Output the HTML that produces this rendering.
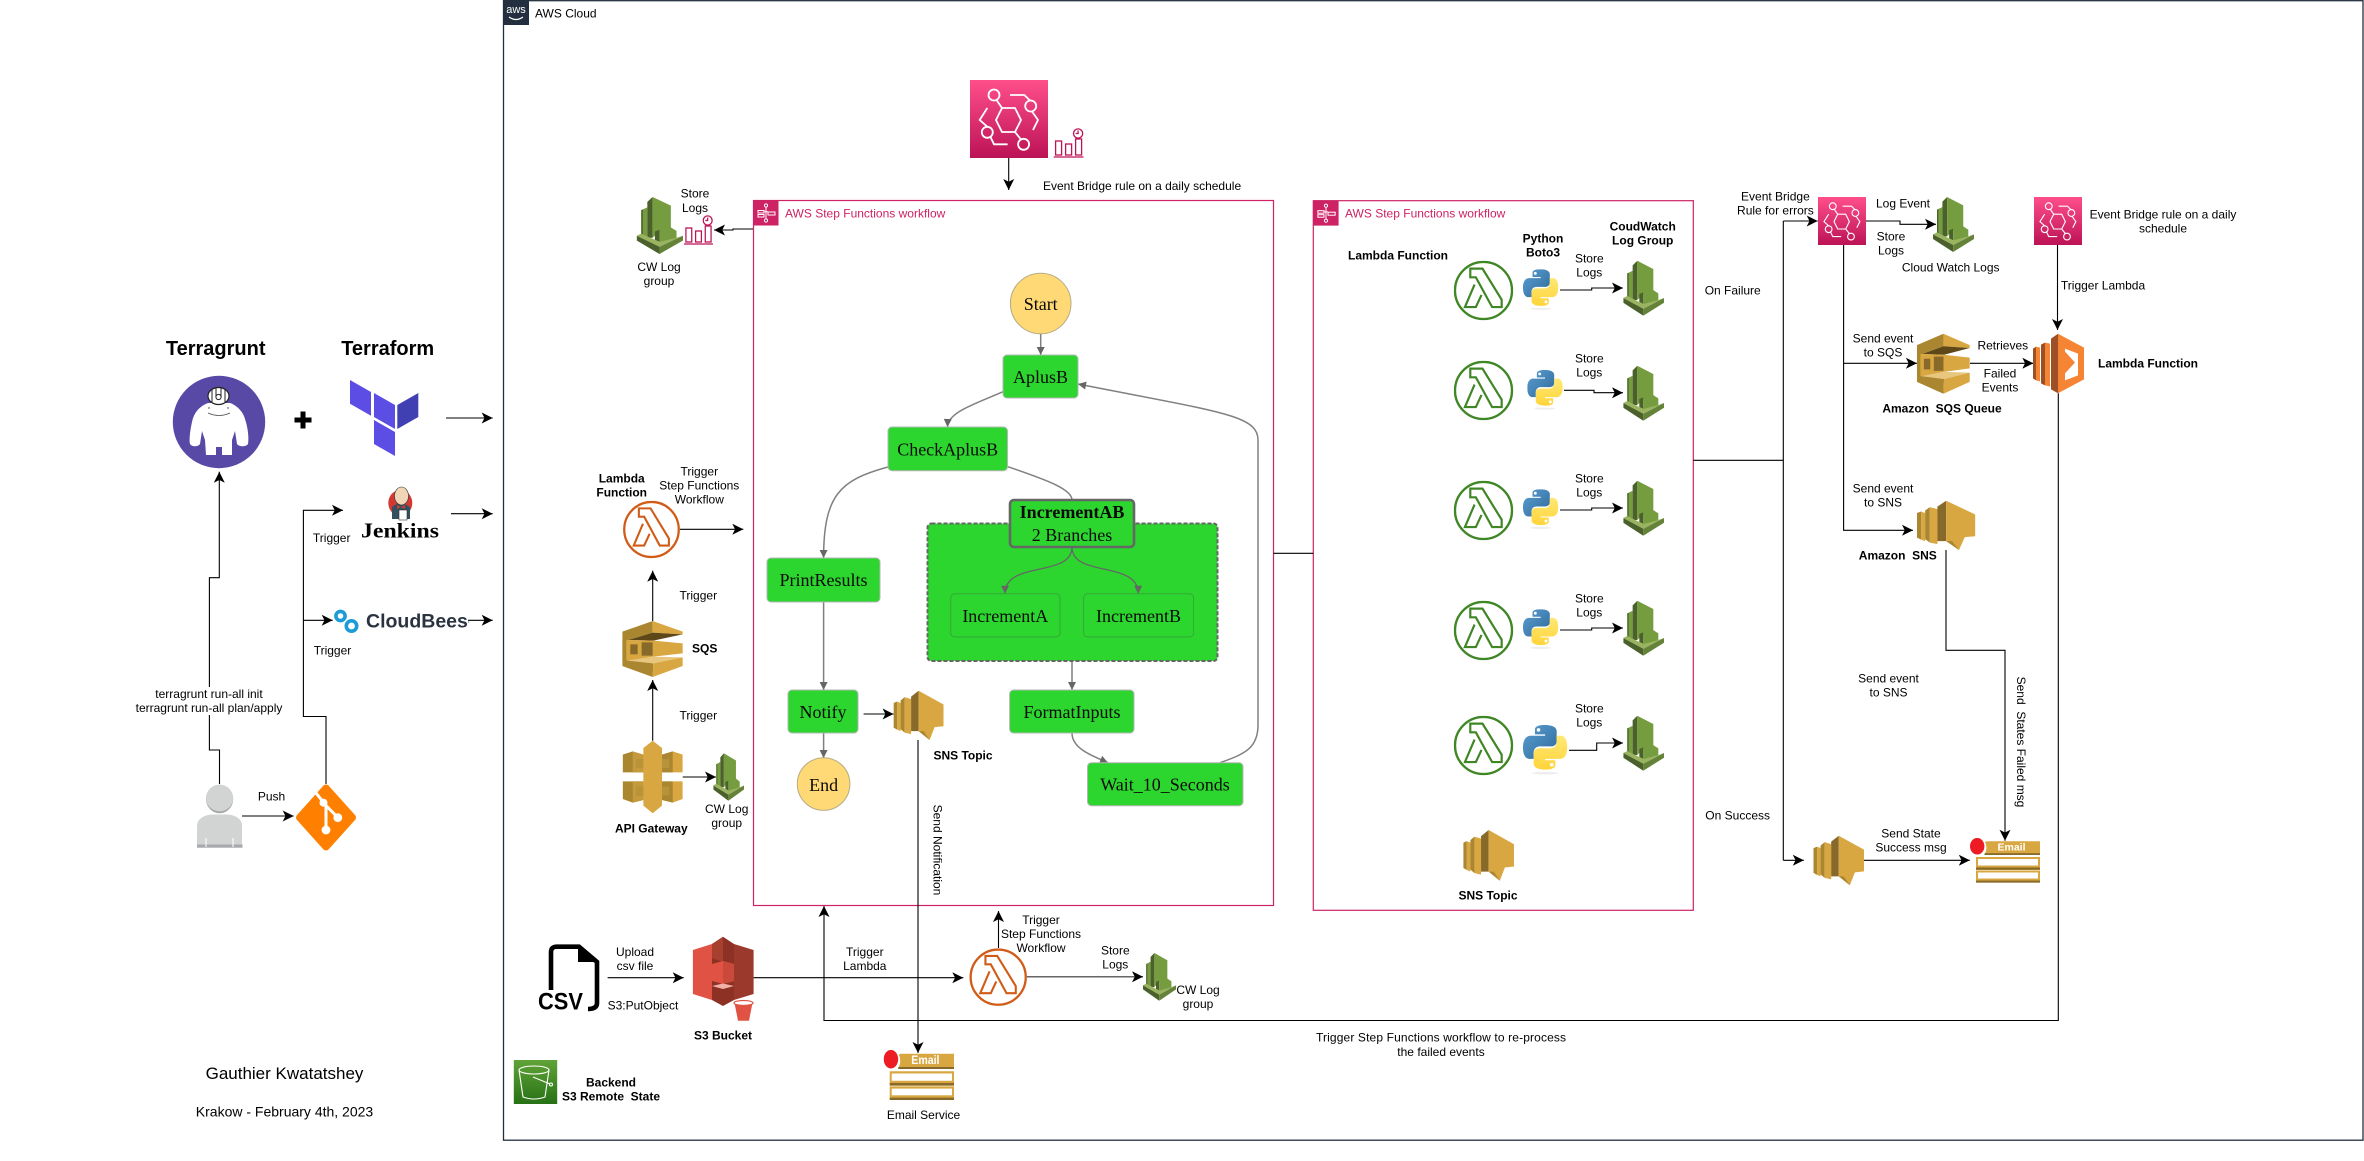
<!DOCTYPE html>
<html lang="en">
<head>
<meta charset="utf-8">
<title>AWS Step Functions architecture</title>
<style>
html,body{margin:0;padding:0;background:#fff;width:2364px;height:1161px;overflow:hidden}
svg{display:block}
text{font-family:"Liberation Sans",Arial,sans-serif;font-size:12px;fill:#000;dominant-baseline:central}
.t{text-anchor:middle}
.l{text-anchor:start}
.b{text-anchor:middle;font-weight:bold}
.s{text-anchor:middle;font-family:"Liberation Serif","Times New Roman",serif;font-size:18px;fill:#0a0a0a}
.p{fill:#CD2264;text-anchor:start}
.e{fill:none;stroke:#000;stroke-width:1.1}
.n{fill:#2CD62F;stroke:#b5b5b5;stroke-width:1}
</style>
</head>
<body>
<svg xmlns="http://www.w3.org/2000/svg" width="2364" height="1161" viewBox="0 0 2364 1161">
<defs>
<marker id="a" viewBox="0 -5 10 10" refX="10" refY="0" markerWidth="11" markerHeight="11" markerUnits="userSpaceOnUse" orient="auto" overflow="visible"><path d="M0,-5L10,0L0,5L2.5,0Z" fill="#000"/></marker>
<marker id="m" viewBox="0 -5 10 10" refX="10" refY="0" markerWidth="8" markerHeight="8" markerUnits="userSpaceOnUse" orient="auto" overflow="visible"><path d="M0,-5L10,0L0,5Z" fill="#666"/></marker>
<linearGradient id="pk" x1="0" y1="0" x2="0" y2="1"><stop offset="0" stop-color="#FF4F8B"/><stop offset="1" stop-color="#BC1356"/></linearGradient>
<linearGradient id="gr" x1="0" y1="1" x2="0" y2="0"><stop offset="0" stop-color="#277116"/><stop offset="1" stop-color="#60A337"/></linearGradient>
<linearGradient id="pb" x1="0" y1="0" x2="1" y2="1"><stop offset="0" stop-color="#5A9FD4"/><stop offset="1" stop-color="#306998"/></linearGradient>
<linearGradient id="pyg" x1="0" y1="0" x2="0" y2="1"><stop offset="0" stop-color="#FFE873"/><stop offset="1" stop-color="#FFD43B"/></linearGradient>

<symbol id="cw" viewBox="0 0 122 165" preserveAspectRatio="none">
<polygon points="12,38 28,30 28,118 12,108" fill="#759C3E"/>
<polygon points="12,38 16,36 16,111 12,108" fill="#4B612C"/>
<polygon points="28,14 42,0 42,118 28,118" fill="#4B612C"/>
<polygon points="42,0 90,25 90,95 60,100 42,118" fill="#759C3E"/>
<polygon points="48,100 60,95 60,130 48,124" fill="#4B612C"/>
<polygon points="60,95 88,87 105,98 105,122 60,134" fill="#759C3E"/>
<polygon points="0,112 12,106 60,130 105,118 122,112 60,144" fill="#9AB35F"/>
<polygon points="0,112 60,144 60,165 0,126" fill="#4B612C"/>
<polygon points="122,112 60,144 60,165 122,126" fill="#648339"/>
</symbol>

<symbol id="sns" viewBox="0 0 100 100" preserveAspectRatio="none">
<polygon points="0,25 7,22 7,79 0,75" fill="#A9862F"/>
<polygon points="7,22 14,25 14,82 7,79" fill="#D9A741"/>
<polygon points="14,20 22,13 22,85 14,78" fill="#A9862F"/>
<polygon points="22,13 35,17 35,88 22,85" fill="#D9A741"/>
<polygon points="35,12 50,0 50,82 35,82" fill="#876929"/>
<polygon points="50,0 100,28 100,72 82,74 72,100 50,82" fill="#D9A741"/>
<polygon points="50,82 60,82 72,100" fill="#A9862F"/>
</symbol>

<symbol id="sqs" viewBox="0 0 182 168" preserveAspectRatio="none">
<polygon points="0,32 91,0 91,35 18,57 0,57" fill="#A9862F"/>
<polygon points="91,0 181,32 181,40 91,35" fill="#D9A741"/>
<polygon points="18,57 91,35 181,40 93,59" fill="#5E4818"/>
<polygon points="0,55 18,57 93,59 181,67 181,97 93,107 18,119 0,120" fill="#D9A741"/>
<rect x="0" y="55" width="12" height="65" fill="#A9862F"/>
<rect x="24" y="70" width="22" height="30" fill="#876929"/>
<rect x="58" y="64" width="33" height="40" fill="#876929"/>
<polygon points="18,119 93,107 181,109 93,127" fill="#E8C67E"/>
<polygon points="0,117 18,119 93,127 91,168 0,135" fill="#A9862F"/>
<polygon points="93,127 181,109 181,135 91,168" fill="#D9A741"/>
</symbol>

<symbol id="api" viewBox="0 0 180 218" preserveAspectRatio="none">
<polygon points="0,42 30,32 62,42 62,95 0,95" fill="#A9862F"/>
<polygon points="30,32 62,42 62,55 40,55 40,82 62,82 62,95 30,95" fill="#C49A3C"/>
<polygon points="0,122 62,122 62,178 30,186 0,175" fill="#A9862F"/>
<polygon points="30,122 62,122 62,138 40,138 40,164 62,164 62,178 30,186" fill="#C49A3C"/>
<polygon points="118,42 150,32 180,42 180,95 118,95" fill="#D9A741"/>
<polygon points="118,42 150,32 150,95 118,95" fill="#A9862F"/>
<polygon points="118,122 180,122 180,175 150,186 118,178" fill="#D9A741"/>
<polygon points="118,122 150,122 150,186 118,178" fill="#A9862F"/>
<rect x="40" y="55" width="100" height="27" fill="#B8933A"/>
<rect x="40" y="138" width="100" height="26" fill="#B8933A"/>
<polygon points="62,22 90,0 118,22 118,195 90,218 62,195" fill="#D9A741"/>
</symbol>

<symbol id="lo" viewBox="0 0 51 60" preserveAspectRatio="none">
<polygon points="0,15 3,13 3,47 0,45" fill="#9D5025"/>
<polygon points="3,13 7,14 7,48 3,47" fill="#F58534"/>
<polygon points="8,11 12,9 12,52 8,50" fill="#9D5025"/>
<polygon points="12,9 17,10 17,53 12,52" fill="#F58534"/>
<polygon points="18,5 25,0 25,60 18,56" fill="#9D5025"/>
<polygon points="25,0 51,14 51,46 25,60" fill="#F58534"/>
<polygon points="32,15 45,20 45,42 32,47 32,40 39,29 32,18" fill="#fff"/>
<polygon points="32,18 42,29 32,40" fill="#F58534"/>
</symbol>

<symbol id="lam" viewBox="0 0 60 60" preserveAspectRatio="none">
<circle cx="30" cy="30" r="28.7" fill="#fff" stroke="currentColor" stroke-width="2.4"/>
<path d="M16.7,8H29L48.3,39.3V46.7H38.7L22.3,16.7H16.7Z" fill="none" stroke="currentColor" stroke-width="2.2"/>
<path d="M21,24L11.3,46.7H22.3L28,34.5" fill="none" stroke="currentColor" stroke-width="2.2"/>
</symbol>

<symbol id="pylogo" viewBox="0 0 100 112" preserveAspectRatio="none">
<ellipse cx="50" cy="108" rx="30" ry="3" fill="#eee"/>
<path d="M49,0C25,0 27,10 27,10V21H50V24H18C18,24 0,22 0,50C0,78 15,76 15,76H24V63C24,63 23,48 39,48H63C63,48 76,48 76,36V14C76,14 78,0 49,0Z" fill="url(#pb)"/>
<circle cx="35" cy="11" r="4" fill="#fff"/>
<path d="M51,100C75,100 73,90 73,90V79H50V76H82C82,76 100,78 100,50C100,22 85,24 85,24H76V37C76,37 77,52 61,52H37C37,52 24,52 24,64V86C24,86 22,100 51,100Z" fill="url(#pyg)"/>
<circle cx="65" cy="89" r="4" fill="#fff"/>
</symbol>

<symbol id="eb" viewBox="0 0 78 78" preserveAspectRatio="none">
<rect width="78" height="78" fill="url(#pk)"/>
<g fill="none" stroke="#fff" stroke-width="1.8">
<polygon points="32,28 45,28 51,40 45,52 32,52 26,40"/>
<circle cx="24" cy="15" r="5.5"/><circle cx="60.7" cy="26" r="5.5"/><circle cx="17.3" cy="52.3" r="5.5"/><circle cx="53.6" cy="64.3" r="5.5"/>
<path d="M26.5,20L32,28M51,59.5L45,52M40,15H54.3L60,20.5M62,31.5L68,40L63,50M17.3,28L9.7,40L17.3,46.7M20.5,57L24,64.3H37.6"/>
</g>
</symbol>

<symbol id="sch" viewBox="0 0 30 30" preserveAspectRatio="none">
<g fill="none" stroke="#BC1356" stroke-width="1.3">
<rect x="2" y="13" width="6" height="14"/><rect x="12" y="16" width="6" height="11"/><rect x="22" y="11" width="6" height="16"/>
<circle cx="24.5" cy="5.5" r="4.6"/><path d="M24.5,2.5V5.5H22M0,29H30"/>
</g>
</symbol>

<symbol id="sf" viewBox="0 0 25 25" preserveAspectRatio="none">
<rect width="25" height="25" fill="#CD2264"/>
<g fill="none" stroke="#fff" stroke-width="1">
<circle cx="12.5" cy="5" r="1.6"/><circle cx="12.5" cy="20" r="1.6"/>
<rect x="4.5" y="10" width="6" height="2.5"/><rect x="4.5" y="14" width="6" height="2.5"/><rect x="14.5" y="11.5" width="7" height="3"/>
<path d="M12.5,6.6V18.4M10.5,11.2H14.5"/>
</g>
</symbol>

<symbol id="em" viewBox="0 0 70 44.7" preserveAspectRatio="none">
<path d="M17,3.3H70V16.7H14.5C17,12 17,8 15,4Z" fill="#D9A741"/>
<rect x="14.5" y="15.2" width="55.5" height="1.8" fill="#876929"/>
<rect x="6" y="19" width="64" height="13" fill="#D9A741"/>
<rect x="8" y="21" width="60" height="6.5" fill="#fff"/>
<rect x="6" y="29.5" width="64" height="2.2" fill="#876929"/>
<rect x="6" y="32.5" width="64" height="12.2" fill="#D9A741"/>
<rect x="8" y="34.5" width="60" height="6" fill="#fff"/>
<rect x="6" y="42.6" width="64" height="2.1" fill="#876929"/>
<ellipse cx="7.2" cy="8.2" rx="7.2" ry="8.3" fill="#ED1C24"/>
<text x="41.5" y="9.5" style="font-size:10.5px;font-weight:bold;fill:#fff;text-anchor:middle">Email</text>
</symbol>
</defs>

<rect width="2364" height="1161" fill="#fff"/>

<!-- AWS Cloud frame -->
<rect x="503.5" y="0.7" width="1859.5" height="1139.5" fill="none" stroke="#232F3E" stroke-width="1.3"/>
<rect x="503" y="0" width="26" height="25" fill="#232F3E"/>
<text x="516" y="10" class="t" style="font-size:11px;fill:#fff">aws</text>
<path d="M509,17Q516,22 523,17" fill="none" stroke="#fff" stroke-width="1.2"/>
<text x="535" y="13.5" class="l">AWS Cloud</text>

<!-- Step functions frames -->
<rect x="753.5" y="200.5" width="520" height="705" fill="#fff" stroke="#CD2264" stroke-width="1.2"/>
<use href="#sf" x="753.5" y="200.5" width="25" height="25"/>
<text x="785" y="213.7" class="p">AWS Step Functions workflow</text>
<rect x="1313.3" y="200.7" width="380" height="709.6" fill="#fff" stroke="#CD2264" stroke-width="1.2"/>
<use href="#sf" x="1313.3" y="200.7" width="25.4" height="25"/>
<text x="1345" y="213.7" class="p">AWS Step Functions workflow</text>

<!-- Left section -->
<text x="215.7" y="349" class="b" style="font-size:20px">Terragrunt</text>
<text x="387.7" y="349" class="b" style="font-size:20px">Terraform</text>
<circle cx="219" cy="422" r="46.2" fill="#5849A6"/>
<path d="M208,403C200,406 194,412 192,422C190,431 189,440 190,444C192,447 198,447 200,444L202,431L205,440L206,455L216,455L216,447L222,447L222,455L232,455L232,440L235,431L237,444C239,447 246,447 248,444C249,438 248,428 245,419C243,411 236,405 230,403Z" fill="#fff"/>
<path d="M208,413Q219,418 230,413" fill="none" stroke="#4a4a4a" stroke-width=".8"/>
<circle cx="209" cy="408" r=".7" fill="#333"/><circle cx="228" cy="408" r=".7" fill="#333"/>
<ellipse cx="218.5" cy="396" rx="10.5" ry="8.5" fill="#fff" stroke="#222" stroke-width="1.2"/>
<path d="M212,389V402M216,388V397M221,388V397M225,389V402" stroke="#222" stroke-width="1"/>
<circle cx="218.5" cy="397" r="2.6" fill="#fff" stroke="#222"/>
<rect x="294.5" y="417.5" width="17" height="5" fill="#000"/><rect x="300.5" y="411.5" width="5" height="17" fill="#000"/>
<polygon points="350,380 371,392 371,415.7 350,403.7" fill="#5C4EE5"/>
<polygon points="374,393 395,405 395,429 374,417" fill="#5C4EE5"/>
<polygon points="397.3,405 418.3,393 418.3,417 397.3,429" fill="#4040B2"/>
<polygon points="374,420 395,432 395,456 374,444" fill="#5C4EE5"/>

<!-- Jenkins -->
<ellipse cx="400.3" cy="503" rx="12" ry="13" fill="#D33833"/>
<path d="M392,519V507Q400,500 410,507V519Z" fill="#335061"/>
<ellipse cx="401.5" cy="496" rx="7" ry="9" fill="#F0D6B7" stroke="#333" stroke-width=".6"/>
<path d="M397,505L401,507L405,505L405,509L401,507L397,509Z" fill="#D33833"/>
<rect x="399" y="510" width="8" height="10" fill="#fff" stroke="#333" stroke-width=".6"/>
<text x="400" y="530.7" class="t" style="font-family:'Liberation Serif',serif;font-weight:bold;font-size:21px" textLength="78" lengthAdjust="spacingAndGlyphs">Jenkins</text>

<!-- CloudBees -->
<g fill="none" stroke="#1D9BD7" stroke-width="3.6"><circle cx="340.5" cy="616" r="4.6"/><circle cx="351.5" cy="626" r="5.2"/></g>
<text x="366" y="621.7" class="l" style="font-size:19.5px;font-weight:bold;fill:#2B3340">CloudBees<tspan style="font-size:6px">.</tspan></text>

<!-- left connectors -->
<path class="e" d="M446,418H492.7" marker-end="url(#a)"/>
<path class="e" d="M451,513.7H492.7" marker-end="url(#a)"/>
<path class="e" d="M468,620.3H492.7" marker-end="url(#a)"/>
<path class="e" d="M219.5,784V750H209.4V577.7H219.3V471.7" marker-end="url(#a)"/>
<rect x="132" y="687" width="156" height="28" fill="#fff"/>
<text x="209" y="694" class="t">terragrunt run-all init</text>
<text x="209" y="708" class="t">terragrunt run-all plan/apply</text>
<path class="e" d="M326,784V716.5H303.4V510.3H343" marker-end="url(#a)"/>
<path class="e" d="M303.4,620.3H332.7" marker-end="url(#a)"/>
<text x="331.7" y="538" class="t">Trigger</text>
<text x="332.5" y="650.5" class="t">Trigger</text>
<path class="e" d="M242,816H293.7" marker-end="url(#a)"/>
<text x="271.5" y="796.7" class="t">Push</text>

<!-- Person -->
<path d="M197,847V826C197,819 204,815 212,814.5H227C236,815 242,819 242,826V847Z" fill="#D2D3D3"/>
<rect x="197" y="844.5" width="45.5" height="3.2" fill="#A7A9AC"/>
<path d="M206,838V847M233,838V847" stroke="#fff" stroke-width="1"/>
<ellipse cx="219.6" cy="799" rx="13.6" ry="14.3" fill="#A7A9AC"/>
<ellipse cx="219.6" cy="798" rx="13.6" ry="13.3" fill="#D2D3D3"/>

<!-- Git -->
<polygon points="326,788 352.5,817.5 326,847 299.5,817.5" fill="#FF8000" stroke="#FF8000" stroke-width="7" stroke-linejoin="round"/>
<path d="M315,791.7L326,805.5V830M326,805.5L337.8,817.6" fill="none" stroke="#fff" stroke-width="3"/>
<circle cx="326" cy="830" r="4.4" fill="#fff"/><circle cx="337.8" cy="817.6" r="4.4" fill="#fff"/><circle cx="323.5" cy="802.7" r="4" fill="#fff"/>

<text x="284.5" y="1073.6" class="t" style="font-size:17px">Gauthier Kwatatshey</text>
<text x="284.5" y="1111.5" class="t" style="font-size:14px">Krakow - February 4th, 2023</text>

<!-- Left column inside AWS -->
<use href="#cw" x="636.7" y="197" width="46.3" height="57"/>
<use href="#sch" x="684" y="215" width="29" height="30"/>
<path class="e" d="M753,229H733V230H714" marker-end="url(#a)"/>
<text x="695" y="193.7" class="t">Store</text><text x="695" y="208" class="t">Logs</text>
<text x="659" y="267" class="t">CW Log</text><text x="659" y="281" class="t">group</text>

<use href="#lam" x="623" y="500.7" width="57" height="57.6" style="color:#D05C17"/>
<text x="621.7" y="478.7" class="b">Lambda</text><text x="621.7" y="492.7" class="b">Function</text>
<text x="699.3" y="471.7" class="t">Trigger</text><text x="699.3" y="485.7" class="t">Step Functions</text><text x="699.3" y="499.7" class="t">Workflow</text>
<path class="e" d="M680,529.3H743.3" marker-end="url(#a)"/>
<path class="e" d="M652.7,621V570.7" marker-end="url(#a)"/>
<text x="698.3" y="595.7" class="t">Trigger</text>
<use href="#sqs" x="622.3" y="621" width="60.7" height="56"/>
<text x="704.7" y="648.7" class="b">SQS</text>
<path class="e" d="M652.7,740.7V680" marker-end="url(#a)"/>
<text x="698.3" y="715.7" class="t">Trigger</text>
<use href="#api" x="622.7" y="740.7" width="60" height="72.6"/>
<text x="651.3" y="828.7" class="b">API Gateway</text>
<path class="e" d="M682.7,777H716" marker-end="url(#a)"/>
<use href="#cw" x="713.3" y="753.3" width="30.7" height="47.4"/>
<text x="726.7" y="809" class="t">CW Log</text><text x="726.7" y="823" class="t">group</text>

<!-- Top EventBridge -->
<use href="#eb" x="970" y="80" width="78" height="78"/>
<use href="#sch" x="1053.6" y="128" width="30" height="30"/>
<path class="e" d="M1008.7,158V190" marker-end="url(#a)"/>
<text x="1043" y="186" class="l">Event Bridge rule on a daily schedule</text>

<!-- State machine edges -->
<g fill="none" stroke="#808080" stroke-width="1.5">
<path d="M1040.7,334V355" marker-end="url(#m)"/>
<path d="M1003,391.7C975,404 948,412 947.5,427" marker-end="url(#m)"/>
<path d="M1220,762.7C1245,754 1258,748 1258,725V440C1258,415 1220,412 1078,384" marker-end="url(#m)"/>
<path d="M888,467C840,480 823.6,495 823.6,558" marker-end="url(#m)"/>
<path d="M1008,466.7C1040,478 1072,488 1072,500"/>
<path d="M823.6,602V690" marker-end="url(#m)"/>
<path d="M823.6,733V758" marker-end="url(#m)"/>
<path d="M1072,661V690" marker-end="url(#m)"/>
<path d="M1072,733C1072,748 1090,755 1108,762.7" marker-end="url(#m)"/>
</g>

<!-- State machine nodes -->
<circle cx="1040.7" cy="303.5" r="30.3" fill="#FFD975" stroke="#b5ab85"/>
<text x="1040.7" y="304" class="s">Start</text>
<rect x="1003" y="355" width="75" height="43" rx="4" class="n"/><text x="1040.5" y="377" class="s">AplusB</text>
<rect x="888" y="427" width="119.5" height="43.7" rx="4" class="n"/><text x="947.7" y="449.5" class="s">CheckAplusB</text>
<rect x="767" y="558" width="113" height="44" rx="4" class="n"/><text x="823.5" y="580" class="s">PrintResults</text>
<rect x="927.5" y="523.5" width="290" height="137.5" rx="4" fill="#2CD62F" stroke="#666" stroke-width="2" stroke-dasharray="4 2"/>
<rect x="1010" y="500" width="124" height="47" rx="4" fill="#2CD62F" stroke="#666" stroke-width="2.6"/>
<text x="1072" y="512" class="s" style="font-weight:bold">IncrementAB</text>
<text x="1072" y="535" class="s">2 Branches</text>
<g fill="none" stroke="#666" stroke-width="1.3">
<path d="M1072,547C1072,578 1005,560 1005,593.7" marker-end="url(#m)"/>
<path d="M1072,547C1072,578 1138.2,560 1138.2,593.7" marker-end="url(#m)"/>
</g>
<rect x="950.7" y="593.7" width="109.3" height="43.3" rx="4" fill="#2CD62F" stroke="#35a838"/><text x="1005.3" y="616" class="s">IncrementA</text>
<rect x="1083.6" y="593.7" width="110" height="43.3" rx="4" fill="#2CD62F" stroke="#35a838"/><text x="1138.5" y="616" class="s">IncrementB</text>
<rect x="788" y="690" width="70" height="43" rx="4" class="n"/><text x="823" y="712" class="s">Notify</text>
<circle cx="823.6" cy="784" r="26.3" fill="#FFD975" stroke="#b5ab85"/><text x="823.6" y="785" class="s">End</text>
<rect x="1009.6" y="690" width="124.4" height="43" rx="4" class="n"/><text x="1072" y="712" class="s">FormatInputs</text>
<rect x="1087.5" y="762.7" width="155.5" height="43" rx="4" class="n"/><text x="1165" y="784.5" class="s">Wait_10_Seconds</text>

<path class="e" d="M863.6,714H893.6" marker-end="url(#a)"/>
<use href="#sns" x="893.6" y="690.7" width="50" height="49.3"/>
<text x="963" y="755.7" class="b">SNS Topic</text>
<path class="e" d="M918,740V1053" marker-end="url(#a)"/>
<text x="937.5" y="850" class="t" transform="rotate(90 937.5 850)">Send Notification</text>

<!-- Frame to frame & right connectors -->
<path class="e" d="M1273.5,553.3H1313.3"/>
<path class="e" d="M1693.3,460.3H1783.3"/>
<path class="e" d="M1783.3,221V860.3"/>
<path class="e" d="M1783.3,221H1817.7" marker-end="url(#a)"/>
<path class="e" d="M1783.3,860.3H1803.8" marker-end="url(#a)"/>
<text x="1704.7" y="290.7" class="l">On Failure</text>
<text x="1705.3" y="815.7" class="l">On Success</text>

<!-- Frame 2 content -->
<text x="1398" y="255.7" class="b">Lambda Function</text>
<text x="1543" y="238.7" class="b">Python</text><text x="1543" y="252.7" class="b">Boto3</text>
<text x="1642.7" y="226.7" class="b">CoudWatch</text><text x="1642.7" y="240.7" class="b">Log Group</text>

<use href="#lam" x="1453.7" y="260.7" width="59.6" height="59.6" style="color:#3F8624"/>
<use href="#lam" x="1453.7" y="360.7" width="59.6" height="59.6" style="color:#3F8624"/>
<use href="#lam" x="1453.7" y="480.7" width="59.6" height="59.6" style="color:#3F8624"/>
<use href="#lam" x="1453.7" y="600.7" width="59.6" height="59.6" style="color:#3F8624"/>
<use href="#lam" x="1453.7" y="715.7" width="59.6" height="59.6" style="color:#3F8624"/>

<use href="#pylogo" x="1523" y="269.3" width="35.3" height="41"/>
<use href="#pylogo" x="1527.3" y="370" width="35.4" height="40"/>
<use href="#pylogo" x="1523" y="489.3" width="35.3" height="40"/>
<use href="#pylogo" x="1523" y="609.3" width="35.3" height="40"/>
<use href="#pylogo" x="1523" y="725" width="44.3" height="50"/>

<use href="#cw" x="1623.3" y="260.7" width="40.7" height="55"/>
<use href="#cw" x="1623.3" y="365.7" width="40.7" height="55"/>
<use href="#cw" x="1623.3" y="480.7" width="40.7" height="55"/>
<use href="#cw" x="1623.3" y="600.7" width="40.7" height="55"/>
<use href="#cw" x="1623.3" y="715.7" width="40.7" height="55"/>

<path class="e" d="M1560,290H1591.7V288H1623" marker-end="url(#a)"/>
<path class="e" d="M1564,390.3H1594V392.7H1623" marker-end="url(#a)"/>
<path class="e" d="M1560,510H1591.7V508H1623" marker-end="url(#a)"/>
<path class="e" d="M1560,630H1591.7V628H1623" marker-end="url(#a)"/>
<path class="e" d="M1569,750.3H1596.7V743H1623" marker-end="url(#a)"/>

<text x="1589.3" y="258.7" class="t">Store</text><text x="1589.3" y="272.7" class="t">Logs</text>
<text x="1589.3" y="358.7" class="t">Store</text><text x="1589.3" y="372.7" class="t">Logs</text>
<text x="1589.3" y="478.7" class="t">Store</text><text x="1589.3" y="492.7" class="t">Logs</text>
<text x="1589.3" y="598.7" class="t">Store</text><text x="1589.3" y="612.7" class="t">Logs</text>
<text x="1589.3" y="708.7" class="t">Store</text><text x="1589.3" y="722.7" class="t">Logs</text>

<use href="#sns" x="1463.3" y="830" width="50.7" height="50.7"/>
<text x="1488" y="895.7" class="b">SNS Topic</text>

<!-- Right section -->
<use href="#eb" x="1818" y="197" width="48" height="48"/>
<text x="1775.4" y="196.7" class="t">Event Bridge</text><text x="1775.4" y="210.7" class="t">Rule for errors</text>
<text x="1903" y="203.7" class="t">Log Event</text>
<path class="e" d="M1866,221H1900V224.3H1936" marker-end="url(#a)"/>
<use href="#cw" x="1933" y="197" width="41" height="55"/>
<text x="1891" y="236.7" class="t">Store</text><text x="1891" y="250.7" class="t">Logs</text>
<text x="1950.7" y="267.7" class="t">Cloud Watch Logs</text>

<use href="#eb" x="2034" y="197" width="48" height="48"/>
<text x="2163" y="214.7" class="t">Event Bridge rule on a daily</text><text x="2163" y="228.7" class="t">schedule</text>
<path class="e" d="M2057.5,245V330" marker-end="url(#a)"/>
<text x="2060.9" y="285.7" class="l">Trigger Lambda</text>

<path class="e" d="M1843.6,245V530.3H1913" marker-end="url(#a)"/>
<path class="e" d="M1843.6,363.3H1916.9" marker-end="url(#a)"/>
<text x="1883" y="338.7" class="t">Send event</text><text x="1883" y="352.7" class="t">to SQS</text>
<use href="#sqs" x="1916.9" y="333.7" width="53.1" height="60"/>
<path class="e" d="M1970,363.3H2033.3" marker-end="url(#a)"/>
<text x="2002.8" y="345.7" class="t">Retrieves</text>
<text x="2000" y="373.7" class="t">Failed</text><text x="2000" y="387.7" class="t">Events</text>
<use href="#lo" x="2033" y="333.7" width="51" height="59.6"/>
<text x="2148" y="363.7" class="b">Lambda Function</text>
<text x="1942" y="408.7" class="b" xml:space="preserve">Amazon  SQS Queue</text>
<text x="1883" y="488.7" class="t">Send event</text><text x="1883" y="502.7" class="t">to SNS</text>
<use href="#sns" x="1917" y="500.7" width="58.3" height="49.3"/>
<text x="1897.8" y="555.7" class="b" xml:space="preserve">Amazon  SNS</text>
<path class="e" d="M1946,550V650.3H2005V840.7" marker-end="url(#a)"/>
<text x="1888.5" y="678.7" class="t">Send event</text><text x="1888.5" y="692.7" class="t">to SNS</text>
<text x="2021" y="742" class="t" transform="rotate(90 2021 742)" xml:space="preserve">Send  States Failed msg</text>
<use href="#sns" x="1813.5" y="835.7" width="50.5" height="49.6"/>
<text x="1911" y="833.3" class="t">Send State</text><text x="1911" y="847.7" class="t">Success msg</text>
<path class="e" d="M1864,860.3H1969.8" marker-end="url(#a)"/>
<use href="#em" x="1970" y="838" width="70" height="44.7"/>

<path class="e" d="M2058.3,393.3V1020.5H824V906" marker-end="url(#a)"/>
<text x="1441" y="1037.3" class="t" textLength="250" lengthAdjust="spacing">Trigger Step Functions workflow to re-process</text>
<text x="1441" y="1052" class="t">the failed events</text>

<!-- Bottom row -->
<path d="M551,990V952Q551,946.7 557,946.7H579L597,962V1003Q597,1009 588,1009" fill="none" stroke="#000" stroke-width="4.6"/>
<polygon points="578,946 597,962 578,962" fill="#000"/>
<text x="560.5" y="1002" class="t" style="font-size:24px;font-weight:bold" textLength="45" lengthAdjust="spacingAndGlyphs">CSV</text>
<text x="635" y="952" class="t">Upload</text><text x="635" y="966" class="t">csv file</text>
<path class="e" d="M607.6,977.7H683.7" marker-end="url(#a)"/>
<text x="607.6" y="1005.7" class="l">S3:PutObject</text>

<!-- S3 -->
<polygon points="692.9,950 712,944 712,1000 692.9,994" fill="#E05243"/>
<polygon points="734,944 753.6,950 753.6,994 734,1000" fill="#9B3A2C"/>
<polygon points="712,944 723,936.7 734,944 734,1000 723,1006 712,1000" fill="#8C3123"/>
<polygon points="712,944 723,936.7 723,962 712,958" fill="#A8402F"/>
<polygon points="712,964 723,961 734,964 734,981 723,984 712,981" fill="#E05243"/>
<polygon points="723,961 734,964 734,981 723,984" fill="#C94A3B"/>
<polygon points="712,986 723,983.5 734,986 723,989" fill="#F2B0A9"/>
<path d="M734.5,1003L738,1020.7H749L752.5,1003Z" fill="#E05243"/>
<ellipse cx="743.5" cy="1003" rx="9.5" ry="2.5" fill="#fff" stroke="#E05243" stroke-width="1.2"/>
<text x="723" y="1035.7" class="b">S3 Bucket</text>

<path class="e" d="M753.6,977.7H963.3" marker-end="url(#a)"/>
<text x="864.8" y="952" class="t">Trigger</text><text x="864.8" y="966" class="t">Lambda</text>
<use href="#lam" x="969.4" y="948.3" width="57.6" height="57.7" style="color:#D05C17"/>
<path class="e" d="M998.5,948V911" marker-end="url(#a)"/>
<text x="1041" y="920" class="t">Trigger</text><text x="1041" y="934" class="t">Step Functions</text><text x="1041" y="948" class="t">Workflow</text>
<path class="e" d="M1027,976.7H1143" marker-end="url(#a)" style="stroke:#666;stroke-width:1.5"/>
<text x="1115.3" y="950.7" class="t">Store</text><text x="1115.3" y="964.7" class="t">Logs</text>
<use href="#cw" x="1143" y="953" width="33" height="47.7"/>
<text x="1198" y="990" class="t">CW Log</text><text x="1198" y="1004" class="t">group</text>

<use href="#em" x="883.7" y="1050" width="70.3" height="50"/>
<text x="923.5" y="1115" class="t">Email Service</text>

<rect x="513.8" y="1060" width="43.4" height="44" fill="url(#gr)"/>
<g fill="none" stroke="#fff" stroke-width="1.1">
<ellipse cx="534" cy="1070" rx="15" ry="4"/>
<path d="M519,1070L523,1097Q534,1101 545,1097L549,1070"/>
<path d="M533,1077L550,1084"/><circle cx="551" cy="1084.5" r="1.5"/>
</g>
<text x="611" y="1082.7" class="b">Backend</text>
<text x="611" y="1096.7" class="b" xml:space="preserve">S3 Remote  State</text>
</svg>
</body>
</html>
